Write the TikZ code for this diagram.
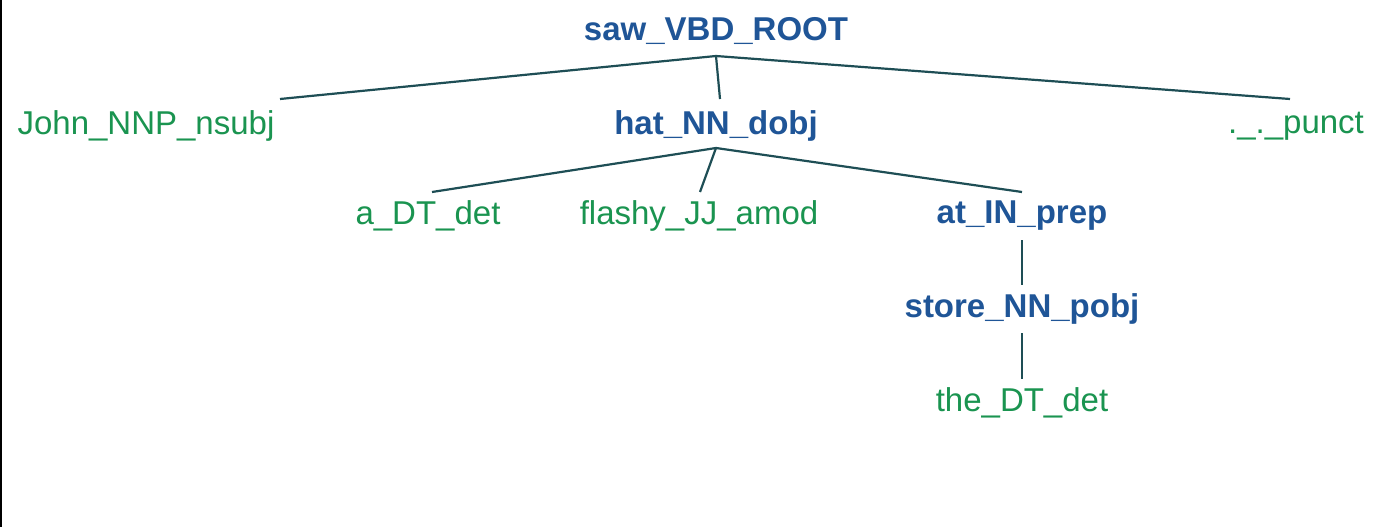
\documentclass[tikz,border=0pt]{standalone}
\usepackage{fontspec}
\setmainfont{Liberation Sans}
\definecolor{hb}{HTML}{1F5597}
\definecolor{lg}{HTML}{1A9450}
\definecolor{ln}{HTML}{1E4E55}
\begin{document}
\begin{tikzpicture}[x=1pt,y=-1pt,
 head/.style={font=\fontsize{33}{33}\selectfont\bfseries,text=hb,inner sep=0pt},
 leaf/.style={font=\fontsize{33}{33}\selectfont,text=lg,inner sep=0pt},
 e/.style={draw=ln,line width=2.2pt}]
\path[use as bounding box,fill=white] (0,0) rectangle (1387,527);
\draw[black,line width=1.5pt] (1,0) -- (1,527);
\node[head] (saw) at (716,31) {saw\_VBD\_ROOT};
\node[leaf] (john) at (146,126) {John\_NNP\_nsubj};
\node[head] (hat) at (716,126) {hat\_NN\_dobj};
\node[leaf] (punct) at (1296,126) {.\_.\_punct};
\node[leaf] (a) at (428,216) {a\_DT\_det};
\node[leaf] (flashy) at (699,216) {flashy\_JJ\_amod};
\node[head] (at) at (1022,216) {at\_IN\_prep};
\node[head] (store) at (1022,309) {store\_NN\_pobj};
\node[leaf] (the) at (1022,403) {the\_DT\_det};
\coordinate (s0) at (716,56);
\coordinate (j0) at (280,99);
\coordinate (h0) at (720,99);
\coordinate (p0) at (1290,99);
\coordinate (h1) at (716,148);
\coordinate (a0) at (432,192);
\coordinate (f0) at (700,192);
\coordinate (at0) at (1022,192);
\coordinate (at1) at (1022,240);
\coordinate (st0) at (1022,285);
\coordinate (st1) at (1022,333);
\coordinate (th0) at (1022,379);
\draw[e] (j0) -- (s0) -- (p0);
\draw[e] (s0) -- (h0);
\draw[e] (a0) -- (h1) -- (at0);
\draw[e] (h1) -- (f0);
\draw[e] (at1) -- (st0);
\draw[e] (st1) -- (th0);
\end{tikzpicture}
\end{document}
